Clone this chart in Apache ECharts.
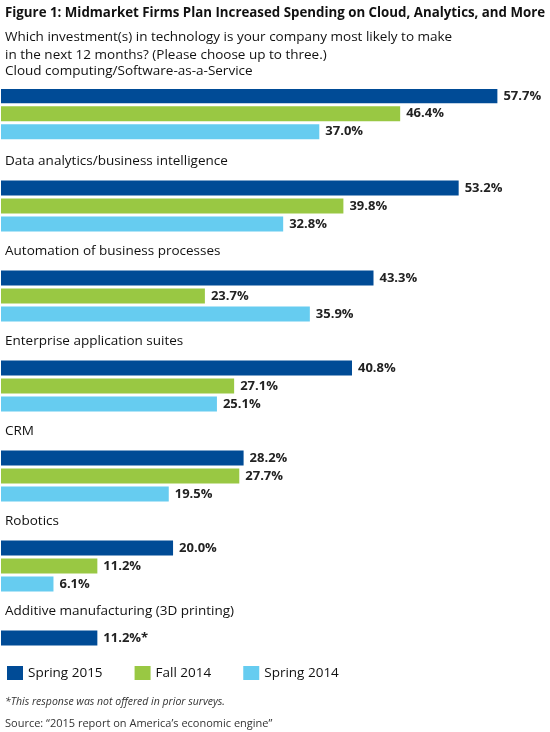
<!DOCTYPE html>
<html>
<head>
<meta charset="utf-8">
<script src="https://cdn.jsdelivr.net/npm/echarts@6/dist/echarts.min.js"></script>
<style>
    html, body { margin: 0; padding: 0; background: #fff; }
    #chart { width: 550px; height: 732px; }
</style>
</head>
<body>
<div id="chart"></div>
<script>
const categories = [
    "Cloud computing/Software-as-a-Service",
    "Data analytics/business intelligence",
    "Automation of business processes",
    "Enterprise application suites",
    "CRM",
    "Robotics",
    "Additive manufacturing (3D printing)",
];
const seriesNames = ["Spring 2015", "Fall 2014", "Spring 2014"];
const spring2015 = [57.7, 53.2, 43.3, 40.8, 28.2, 20.0, 11.2];
const fall2014 = [46.4, 39.8, 23.7, 27.1, 27.7, 11.2, null];
const spring2014 = [37.0, 32.8, 35.9, 25.1, 19.5, 6.1, null];
const colors = ["#004b96", "#99c843", "#66ccf0"];

const font = "'Open Sans', sans-serif";
const groupTop = 89;
const groupPitch = 90;

let grids = [], xAxes = [], yAxes = [], series = [], titles = [];

categories.forEach((cat, i) => {
    grids.push({ left: 1, right: 1, top: groupTop + groupPitch * i, height: 54 });
    xAxes.push({ type: "value", gridIndex: i, min: 0, max: 63.7, show: false });
    yAxes.push({ type: "category", gridIndex: i, inverse: true, data: seriesNames, show: false });
    titles.push({
        text: cat, left: 0, top: groupTop + groupPitch * i - 30,
        textStyle: { fontFamily: font, fontSize: 13.5, fontWeight: "normal", color: "#111" },
    });
    const vals = [spring2015[i], fall2014[i], spring2014[i]];
    series.push({
        type: "bar",
        xAxisIndex: i, yAxisIndex: i,
        barWidth: 15,
        animation: false,
        data: vals.map((v, k) => ({ value: v, itemStyle: { color: colors[k] } })),
        label: {
            show: true, position: "right", distance: 6,
            fontFamily: font, fontSize: 13, fontWeight: "bold", color: "#222",
            formatter: (p) => p.value == null ? "" :
                p.value.toFixed(1) + "%" + (i === categories.length - 1 ? "*" : ""),
        },
    });
});

// legend-only series
seriesNames.forEach((name, k) => {
    series.push({ type: "bar", name: name, xAxisIndex: 0, yAxisIndex: 0, data: [], itemStyle: { color: colors[k] } });
});

titles.push(
    { text: "Figure 1: Midmarket Firms Plan Increased Spending on Cloud, Analytics, and More", left: 0, top: 2,
      textStyle: { fontFamily: font, fontSize: 13.3, fontWeight: "bold", color: "#111" } },
    { text: "Which investment(s) in technology is your company most likely to make\nin the next 12 months? (Please choose up to three.)",
      left: 0, top: 23,
      textStyle: { fontFamily: font, fontSize: 13.5, fontWeight: "normal", color: "#111", lineHeight: 18 } },
    { text: "*This response was not offered in prior surveys.", left: 0, top: 692,
      textStyle: { fontFamily: font, fontSize: 10.5, fontStyle: "italic", fontWeight: "normal", color: "#333" } },
    { text: "Source: \u201c2015 report on America\u2019s economic engine\u201d", left: 0, top: 713,
      textStyle: { fontFamily: font, fontSize: 11, fontWeight: "normal", color: "#333" } },
);

const chart = echarts.init(document.getElementById("chart"));
chart.setOption({
    animation: false,
    title: titles,
    grid: grids,
    xAxis: xAxes,
    yAxis: yAxes,
    legend: {
        left: 2, top: 661, itemWidth: 16, itemHeight: 14, itemGap: 32,
        icon: "rect",
        data: seriesNames,
        textStyle: { fontFamily: font, fontSize: 13.5, color: "#111" },
    },
    series: series,
});
</script>
</body>
</html>
